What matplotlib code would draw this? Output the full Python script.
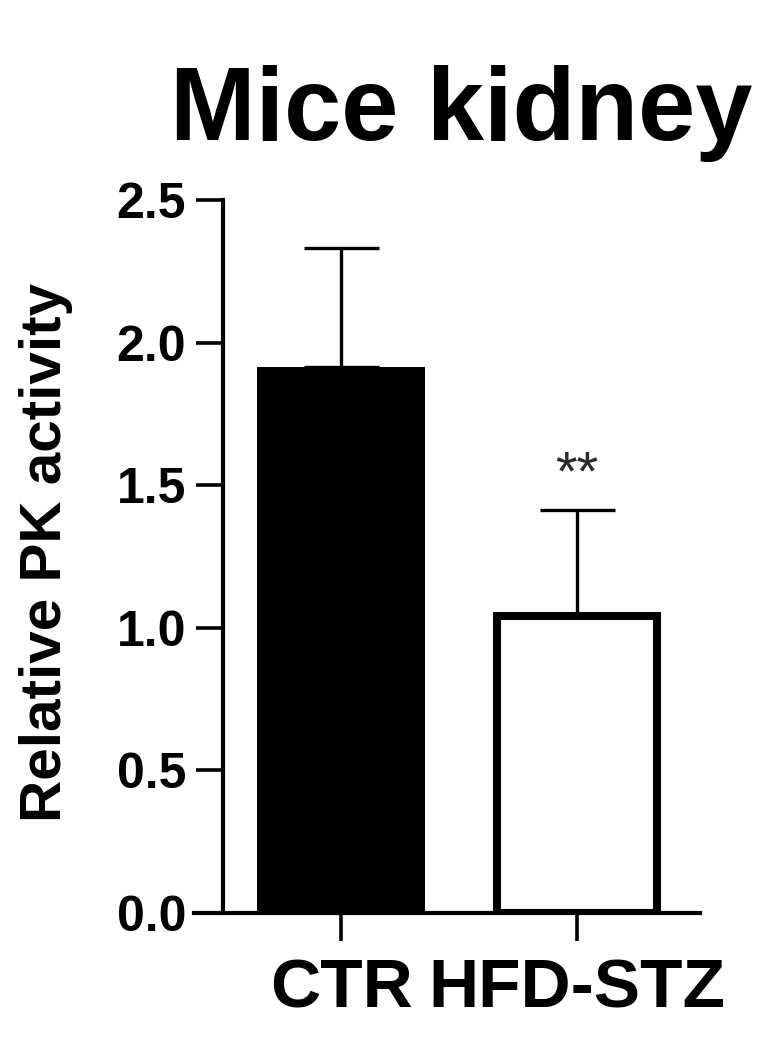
import numpy as np
import matplotlib
matplotlib.use("Agg")
import matplotlib.pyplot as plt

plt.rcParams['font.family'] = ['Liberation Sans', 'DejaVu Sans']

# --- data ---
groups = ["CTR", "HFD-STZ"]
means = [1.915, 1.04]
sem_up = [0.417, 0.373]
signif = ["", "**"]
yticks = [0.0, 0.5, 1.0, 1.5, 2.0, 2.5]

fig = plt.figure(figsize=(7.68, 10.47), dpi=100)
ax = fig.add_axes([194/768, 134/1047, 506/768, 713/1047])

x = np.arange(len(groups))

# filled control bar, open treated bar (outline)
ax.bar(x[0], means[0], width=0.71, color='black', edgecolor='black', linewidth=0, zorder=2)
ax.bar(x[1], means[1], width=0.675, color='white', edgecolor='black', linewidth=5.8, zorder=3)

# upper-only error bars
ax.errorbar(x, means, yerr=[np.zeros(len(sem_up)), sem_up], fmt='none',
            ecolor='black', elinewidth=2.4, capsize=27, capthick=2.4, zorder=1)

for xi, m, e, s in zip(x, means, sem_up, signif):
    if s:
        ax.text(xi, m + e + 0.12, s, ha='center', va='center', fontsize=40,
                color='#2a2a2a')

ax.set_xlim(-0.623, 1.521)
ax.set_ylim(0, 2.5)

ax.spines['top'].set_visible(False)
ax.spines['right'].set_visible(False)
ax.spines['left'].set_position(('data', -0.5))
ax.spines['left'].set_linewidth(3)
ax.spines['bottom'].set_linewidth(3)

ax.set_yticks(yticks)
ax.set_yticklabels([f"{t:.1f}" for t in yticks], fontsize=36, fontweight='bold')
ax.set_xticks(x)
ax.set_xticklabels(groups, fontsize=50, fontweight='bold')
ax.tick_params(axis='y', direction='out', length=19.5, width=2.6, pad=7)
ax.tick_params(axis='x', direction='out', length=20, width=2.6, pad=12)

ax.set_ylabel("Relative PK activity", fontsize=42, fontweight='bold')
ax.yaxis.set_label_coords(-0.24, 0.506)

fig.text(461/768, 1 - 140/1047, "Mice kidney", ha='center', va='baseline',
         fontsize=74, fontweight='bold')

fig.savefig("out.png", dpi=100)
